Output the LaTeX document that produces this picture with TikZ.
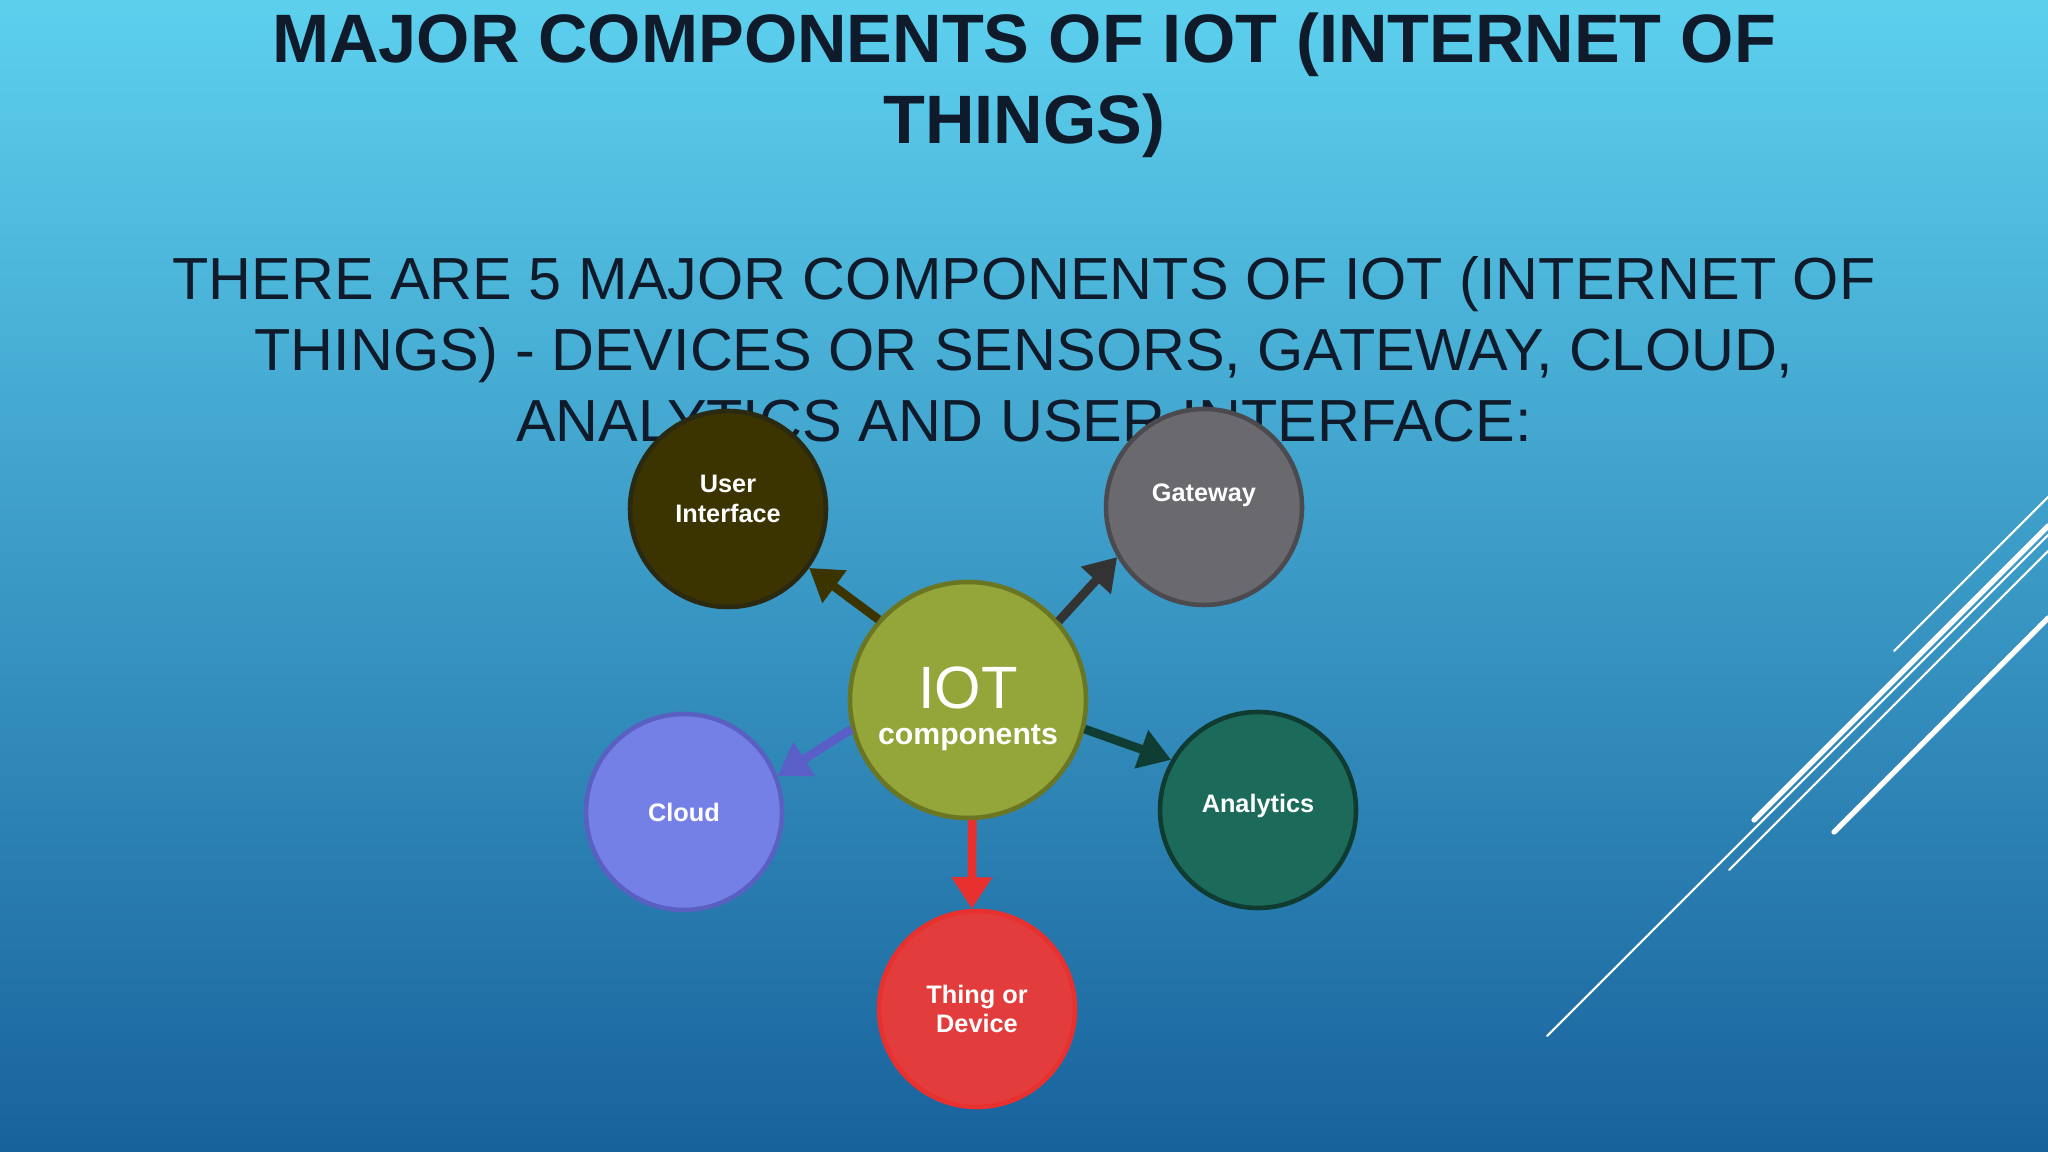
\documentclass[tikz,border=0pt]{standalone}
\usepackage{fontspec}
\setmainfont{Liberation Sans}
\usetikzlibrary{arrows.meta, shapes.geometric}

\definecolor{bgtop}{HTML}{5DD0EE}
\definecolor{bgmid}{HTML}{3C9DCA}
\definecolor{bgbot}{HTML}{18629C}
\definecolor{ink}{HTML}{0F1A2A}
\definecolor{uifill}{HTML}{3B3300}
\definecolor{uiedge}{HTML}{2A2912}
\definecolor{gwfill}{HTML}{69696E}
\definecolor{gwedge}{HTML}{4A4A4F}
\definecolor{iotfill}{HTML}{94A53A}
\definecolor{iotedge}{HTML}{6B7622}
\definecolor{cloudfill}{HTML}{7480E6}
\definecolor{cloudedge}{HTML}{5A60C2}
\definecolor{anfill}{HTML}{1B6A5A}
\definecolor{anedge}{HTML}{0F3B30}
\definecolor{thingfill}{HTML}{E33C3C}
\definecolor{thingedge}{HTML}{E8302F}
\definecolor{gwarrow}{HTML}{333333}
\definecolor{cloudarrow}{HTML}{5A5FC8}
\definecolor{anarrow}{HTML}{0F3D33}

\tikzstyle{arrow} = [line width=2.5pt, -{Triangle[length=9pt, width=11pt]}]
\tikzstyle{bubble} = [circle, minimum size=19.6mm, line width=1.3pt, inner sep=0pt, align=center, text=white, font=\bfseries\fontsize{7.2}{8.5}\selectfont]
\tikzstyle{heading} = [inner sep=0pt, align=center, text=ink, font=\bfseries\fontsize{19.5}{23}\selectfont]
\tikzstyle{para} = [inner sep=0pt, align=center, text=ink, font=\fontsize{16.9}{20.2}\selectfont]
\tikzstyle{deco} = [white, line cap=round]

\begin{document}
\begin{tikzpicture}[x=0.1mm, y=-0.1mm]
	\useasboundingbox (0,0) rectangle (2048,1152);
	\shade [top color=bgtop, middle color=bgmid, bottom color=bgbot] (0,0) rectangle (2048,1152);
	% slide decoration
	\draw [deco, line width=0.6pt] (1894,651) -- (2048,497);
	\draw [deco, line width=1.5pt] (1754,820) -- (2048,526);
	\draw [deco, line width=0.6pt] (1547,1036) -- (2048,535);
	\draw [deco, line width=0.6pt] (1729,870) -- (2048,551);
	\draw [deco, line width=1.5pt] (1834,832) -- (2048,618);
	% texts
	\node (title) [heading, anchor=north] at (1024,12) {MAJOR COMPONENTS OF IOT (INTERNET OF\\THINGS)};
	\node (intro) [para, anchor=north] at (1024,256) {THERE ARE 5 MAJOR COMPONENTS OF IOT (INTERNET OF\\THINGS) - DEVICES OR SENSORS, GATEWAY, CLOUD,\\ANALYTICS AND USER INTERFACE:};
	% components
	\node (iot) [bubble, minimum size=23.6mm, fill=iotfill, draw=iotedge, text height=27pt, font=\bfseries\fontsize{8.6}{10.3}\selectfont] at (968,700) {{\mdseries\fontsize{17}{10.3}\selectfont IOT}\\components};
	\node (ui) [bubble, fill=uifill, draw=uiedge, text depth=6pt] at (728,509) {User\\Interface};
	\node (gateway) [bubble, fill=gwfill, draw=gwedge, text depth=8pt] at (1204,507) {Gateway};
	\node (cloud) [bubble, fill=cloudfill, draw=cloudedge] at (684,812) {Cloud};
	\node (analytics) [bubble, fill=anfill, draw=anedge, text depth=4pt] at (1258,810) {Analytics};
	\node (thing) [bubble, fill=thingfill, draw=thingedge] at (977,1009) {Thing or\\Device};
	\draw [arrow, draw=uifill] (iot.138) -- (ui.324);
	\draw [arrow, draw=gwarrow] (iot.41) -- (gateway.210);
	\draw [arrow, draw=cloudarrow] (iot.194) -- (cloud.21);
	\draw [arrow, draw=anarrow] (iot.346) -- (analytics.150);
	\draw [arrow, draw=thingedge] (iot.272) -- (thing.93);
\end{tikzpicture}
\end{document}
